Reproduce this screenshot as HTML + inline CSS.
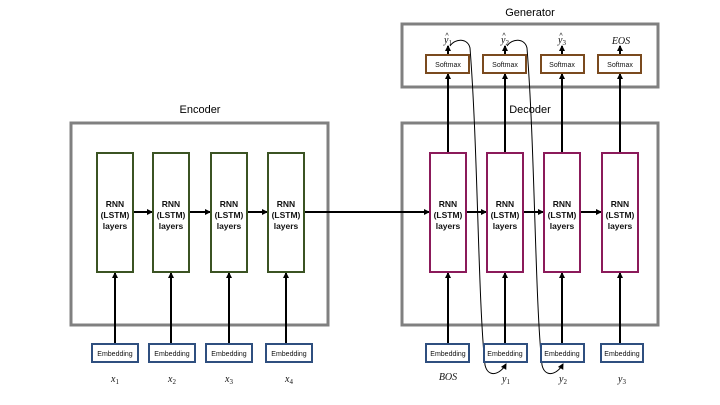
<!DOCTYPE html>
<html><head><style>body{margin:0;background:#fff}svg{display:block}</style></head>
<body>
<svg width="720" height="405" viewBox="0 0 720 405" xmlns="http://www.w3.org/2000/svg" font-family="Liberation Sans, sans-serif">
<defs><marker id="a" markerWidth="6" markerHeight="6" refX="5" refY="3" orient="auto" markerUnits="userSpaceOnUse"><path d="M0,0 L6,3 L0,6 z" fill="#000"/></marker></defs>
<rect x="71" y="123" width="257" height="202" fill="none" stroke="#808080" stroke-width="3"/>
<rect x="402" y="123" width="256" height="202" fill="none" stroke="#808080" stroke-width="3"/>
<rect x="402" y="24" width="256" height="63" fill="none" stroke="#808080" stroke-width="3"/>
<text x="200" y="113" font-size="11" text-anchor="middle">Encoder</text>
<text x="530" y="113" font-size="11" text-anchor="middle">Decoder</text>
<text x="530" y="16" font-size="11" text-anchor="middle">Generator</text>
<g stroke="#000" stroke-width="2" fill="none" marker-end="url(#a)">
<line x1="115" y1="344" x2="115" y2="273"/><line x1="171" y1="344" x2="171" y2="273"/><line x1="229" y1="344" x2="229" y2="273"/><line x1="286" y1="344" x2="286" y2="273"/>
<line x1="448" y1="344" x2="448" y2="273"/><line x1="505" y1="344" x2="505" y2="273"/><line x1="562" y1="344" x2="562" y2="273"/><line x1="620" y1="344" x2="620" y2="273"/>
<line x1="448" y1="153" x2="448" y2="74"/><line x1="505" y1="153" x2="505" y2="74"/><line x1="562" y1="153" x2="562" y2="74"/><line x1="620" y1="153" x2="620" y2="74"/>
<line x1="448" y1="55" x2="448" y2="46"/><line x1="505" y1="55" x2="505" y2="46"/><line x1="562" y1="55" x2="562" y2="46"/><line x1="620" y1="55" x2="620" y2="46"/>
<line x1="133" y1="212" x2="152" y2="212"/><line x1="189" y1="212" x2="210" y2="212"/><line x1="247" y1="212" x2="267" y2="212"/><line x1="304" y1="212" x2="429" y2="212"/>
<line x1="466" y1="212" x2="486" y2="212"/><line x1="523" y1="212" x2="543" y2="212"/><line x1="580" y1="212" x2="601" y2="212"/>
</g>
<g stroke="#000" stroke-width="1" fill="none">
<path d="M450,46 C455,38 468,38 470,48 C478,150 478,300 485,365 C488,378 500,375 506,364" marker-end="url(#a)"/>
<path d="M507,46 C512,38 525,38 527,48 C535,150 535,300 542,365 C545,378 557,375 563,364" marker-end="url(#a)"/>
</g>
<g fill="#fff" stroke="#3b5323" stroke-width="2">
<rect x="97" y="153" width="36" height="119"/><rect x="153" y="153" width="36" height="119"/><rect x="211" y="153" width="36" height="119"/><rect x="268" y="153" width="36" height="119"/>
</g>
<g fill="#fff" stroke="#8b1a5a" stroke-width="2">
<rect x="430" y="153" width="36" height="119"/><rect x="487" y="153" width="36" height="119"/><rect x="544" y="153" width="36" height="119"/><rect x="602" y="153" width="36" height="119"/>
</g>
<g font-size="8.5" text-anchor="middle" font-weight="bold" fill="#111">
<text y="207"><tspan x="115">RNN</tspan><tspan x="115" dy="11">(LSTM)</tspan><tspan x="115" dy="11">layers</tspan></text>
<text y="207"><tspan x="171">RNN</tspan><tspan x="171" dy="11">(LSTM)</tspan><tspan x="171" dy="11">layers</tspan></text>
<text y="207"><tspan x="229">RNN</tspan><tspan x="229" dy="11">(LSTM)</tspan><tspan x="229" dy="11">layers</tspan></text>
<text y="207"><tspan x="286">RNN</tspan><tspan x="286" dy="11">(LSTM)</tspan><tspan x="286" dy="11">layers</tspan></text>
<text y="207"><tspan x="448">RNN</tspan><tspan x="448" dy="11">(LSTM)</tspan><tspan x="448" dy="11">layers</tspan></text>
<text y="207"><tspan x="505">RNN</tspan><tspan x="505" dy="11">(LSTM)</tspan><tspan x="505" dy="11">layers</tspan></text>
<text y="207"><tspan x="562">RNN</tspan><tspan x="562" dy="11">(LSTM)</tspan><tspan x="562" dy="11">layers</tspan></text>
<text y="207"><tspan x="620">RNN</tspan><tspan x="620" dy="11">(LSTM)</tspan><tspan x="620" dy="11">layers</tspan></text>
</g>
<g fill="#fff" stroke="#7a4a1e" stroke-width="2">
<rect x="426" y="55" width="43" height="18"/><rect x="483" y="55" width="43" height="18"/><rect x="541" y="55" width="43" height="18"/><rect x="598" y="55" width="43" height="18"/>
</g>
<g font-size="7" text-anchor="middle" fill="#111">
<text x="448" y="67">Softmax</text><text x="505" y="67">Softmax</text><text x="562" y="67">Softmax</text><text x="620" y="67">Softmax</text>
</g>
<g fill="#fff" stroke="#2f4f7f" stroke-width="2">
<rect x="92" y="344" width="46" height="18"/><rect x="149" y="344" width="46" height="18"/><rect x="206" y="344" width="46" height="18"/><rect x="266" y="344" width="46" height="18"/>
<rect x="426" y="344" width="43" height="18"/><rect x="484" y="344" width="43" height="18"/><rect x="541" y="344" width="43" height="18"/><rect x="601" y="344" width="42" height="18"/>
</g>
<g font-size="7" text-anchor="middle" fill="#111">
<text x="115" y="356">Embedding</text><text x="172" y="356">Embedding</text><text x="229" y="356">Embedding</text><text x="289" y="356">Embedding</text>
<text x="448" y="356">Embedding</text><text x="505" y="356">Embedding</text><text x="562" y="356">Embedding</text><text x="622" y="356">Embedding</text>
</g>
<g font-family="Liberation Serif, serif" font-style="italic" font-size="10" text-anchor="middle" fill="#111">
<text x="115" y="382">x<tspan font-size="7" dy="2" font-style="normal">1</tspan></text>
<text x="172" y="382">x<tspan font-size="7" dy="2" font-style="normal">2</tspan></text>
<text x="229" y="382">x<tspan font-size="7" dy="2" font-style="normal">3</tspan></text>
<text x="289" y="382">x<tspan font-size="7" dy="2" font-style="normal">4</tspan></text>
<text x="448" y="380">BOS</text>
<text x="506" y="382">y<tspan font-size="7" dy="2" font-style="normal">1</tspan></text>
<text x="563" y="382">y<tspan font-size="7" dy="2" font-style="normal">2</tspan></text>
<text x="622" y="382">y<tspan font-size="7" dy="2" font-style="normal">3</tspan></text>
<text x="448" y="43">y<tspan font-size="7" dy="2" font-style="normal">1</tspan></text>
<text x="505" y="43">y<tspan font-size="7" dy="2" font-style="normal">2</tspan></text>
<text x="562" y="43">y<tspan font-size="7" dy="2" font-style="normal">3</tspan></text>
<text x="621" y="44">EOS</text>
</g>
<g font-family="Liberation Sans, sans-serif" font-size="7" text-anchor="middle" fill="#111">
<text x="447" y="38">^</text><text x="504" y="38">^</text><text x="561" y="38">^</text>
</g>
</svg>
</body></html>
